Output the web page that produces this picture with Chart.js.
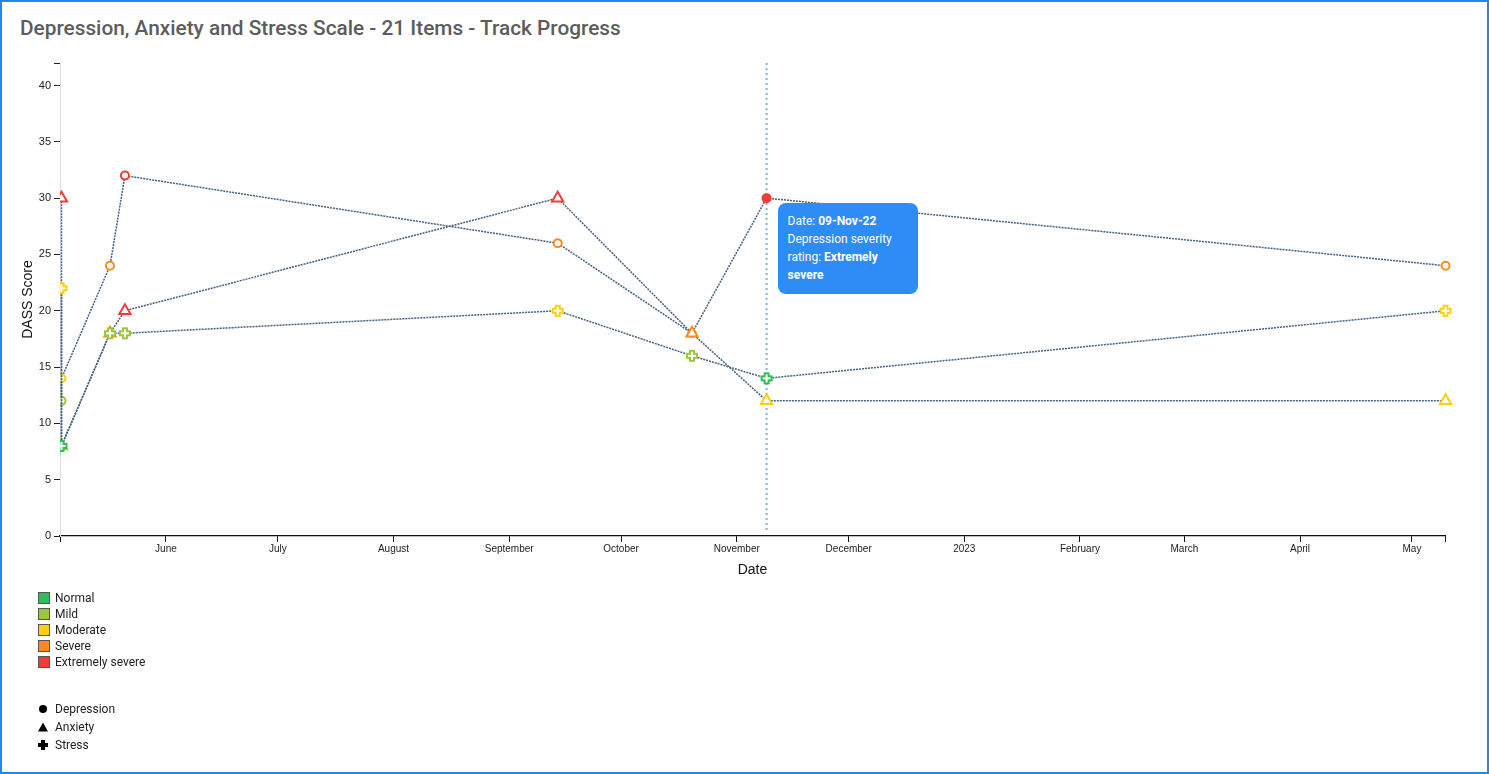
<!DOCTYPE html>
<html>
<head>
<meta charset="utf-8">
<script src="https://cdn.jsdelivr.net/npm/chart.js@4.4.0/dist/chart.umd.min.js"></script>
<style>
body { margin: 0; background: #fff; }
#frame { position: absolute; left: 0; top: 0; width: 1489px; height: 774px; box-sizing: border-box; border: 2px solid #1e88f0; pointer-events: none; }
#title { position: absolute; left: 20px; top: 16px; font: 500 20.8px Roboto; line-height: 24px; color: #5c5c5c; }
#wrap { position: absolute; left: 0; top: 0; width: 1489px; height: 600px; }
#tip { position: absolute; width: 120px; padding: 9px 10px 10px 10px; background: #2e8cf7; color: #fff; border-radius: 8px;
       font: 12px Roboto; line-height: 18px; }
#legend { position: absolute; left: 38px; top: 590px; font: 12px Roboto; color: #222; }
.row { height: 16px; line-height: 16px; display: flex; align-items: center; }
.sw { width: 10px; height: 10px; border: 1px solid #555; margin-right: 5px; }
.shape { height: 18px; line-height: 18px; display: flex; align-items: center; }
.shape svg { margin-right: 7px; }
</style>
</head>
<body>
<div id="title">Depression, Anxiety and Stress Scale - 21 Items - Track Progress</div>
<div id="wrap">
  <canvas id="myChartDass" width="1489" height="600"></canvas>
  <div id="tip"></div>
</div>
<div id="legend"></div>
<div id="frame"></div>
<script>
// assessment dates and scores
var dates = ['2022-05-04', '2022-05-04', '2022-05-17', '2022-05-21', '2022-09-14', '2022-10-20', '2022-11-09', '2023-05-10'];
var depression = [12, 14, 24, 32, 26, 18, 30, 24];
var anxiety = [30, 8, 18, 20, 30, 18, 12, 12];
var stress = [22, 8, 18, 18, 20, 16, 14, 20];

// severity cut points (normal / mild / moderate / severe / extremely severe)
var depressionCuts = [10, 14, 21, 28];
var anxietyCuts = [8, 10, 15, 20];
var stressCuts = [15, 19, 26, 34];
var severityNames = ['Normal', 'Mild', 'Moderate', 'Severe', 'Extremely severe'];
var severityColors = ['#2fbe5a', '#9cc73a', '#ffcf0a', '#ff8a1c', '#f53b35'];

// x axis month ticks
var monthStarts = ['2022-06-01', '2022-07-01', '2022-08-01', '2022-09-01', '2022-10-01', '2022-11-01', '2022-12-01',
                   '2023-01-01', '2023-02-01', '2023-03-01', '2023-04-01', '2023-05-01'];
var monthLabels = ['June', 'July', 'August', 'September', 'October', 'November', 'December',
                   '2023', 'February', 'March', 'April', 'May'];
var yTicks = [0, 5, 10, 15, 20, 25, 30, 35, 40];

var hoverIndex = 6;
var lineColor = '#42617f';

function dayNum(s) {
    var p = s.split('-');
    return Date.UTC(+p[0], +p[1] - 1, +p[2]) / 86400000;
}
function severity(v, cuts) {
    var i = 0;
    while (i < cuts.length && v >= cuts[i]) i++;
    return i;
}
function crossImage(color, fill) {
    var c = document.createElement('canvas');
    c.width = 14; c.height = 14;
    var g = c.getContext('2d');
    var w = 2, L = 5, cx = 7, cy = 7;
    g.beginPath();
    g.moveTo(cx - w, cy - L); g.lineTo(cx + w, cy - L); g.lineTo(cx + w, cy - w); g.lineTo(cx + L, cy - w);
    g.lineTo(cx + L, cy + w); g.lineTo(cx + w, cy + w); g.lineTo(cx + w, cy + L); g.lineTo(cx - w, cy + L);
    g.lineTo(cx - w, cy + w); g.lineTo(cx - L, cy + w); g.lineTo(cx - L, cy - w); g.lineTo(cx - w, cy - w);
    g.closePath();
    g.fillStyle = fill; g.fill();
    g.lineWidth = 2; g.strokeStyle = color; g.stroke();
    return c;
}
var crossImages = severityColors.map(function (c) { return crossImage(c, '#fff'); });

function points(values) {
    return values.map(function (v, i) { return { x: dayNum(dates[i]), y: v }; });
}

function makeDataset(label, values, cuts, style, radius, order) {
    var sev = values.map(function (v) { return severity(v, cuts); });
    return {
        label: label,
        data: points(values),
        order: order,
        borderColor: lineColor,
        borderWidth: 1.5,
        borderDash: [2, 1],
        fill: false,
        tension: 0,
        clip: { left: 0, top: false, right: false, bottom: false },
        pointRadius: radius,
        pointHoverRadius: radius,
        pointBorderWidth: 2,
        pointBorderColor: sev.map(function (s) { return severityColors[s]; }),
        pointBackgroundColor: sev.map(function (s, i) {
            return (label === 'Depression' && i === hoverIndex) ? severityColors[s] : '#fff';
        }),
        pointStyle: style === 'cross' ? sev.map(function (s) { return crossImages[s]; }) : style
    };
}

// axis bounds sit slightly outside the first and last assessment
var xMin = dayNum(dates[0]) - 0.4;
var xMax = dayNum(dates[dates.length - 1]) - 0.15;

var crosshair = {
    id: 'crosshair',
    beforeDatasetsDraw: function (chart) {
        var ctx = chart.ctx, area = chart.chartArea;
        var x = chart.scales.x.getPixelForValue(dayNum(dates[hoverIndex]));
        ctx.save();
        ctx.strokeStyle = '#7fb2d4';
        ctx.lineWidth = 2;
        ctx.setLineDash([2, 3]);
        ctx.beginPath();
        ctx.moveTo(x, area.top);
        ctx.lineTo(x, area.bottom - 4);
        ctx.stroke();
        ctx.restore();
    },
    afterRender: function (chart) {
        var x = chart.scales.x.getPixelForValue(dayNum(dates[hoverIndex]));
        var y = chart.scales.y.getPixelForValue(depression[hoverIndex]);
        var tip = document.getElementById('tip');
        tip.style.left = (x + 11) + 'px';
        tip.style.top = (y + 5) + 'px';
    }
};

const ctxDass = document.getElementById('myChartDass');
var chartDass = new Chart(ctxDass, {
    type: 'line',
    data: {
        datasets: [
            makeDataset('Depression', depression, depressionCuts, 'circle', 4, 3),
            makeDataset('Anxiety', anxiety, anxietyCuts, 'triangle', 6.5, 2),
            makeDataset('Stress', stress, stressCuts, 'cross', 6, 1)
        ]
    },
    plugins: [crosshair],
    options: {
        responsive: false,
        animation: false,
        events: [],
        layout: { padding: { left: 20, top: 63, right: 44, bottom: 17 } },
        plugins: {
            legend: { display: false },
            tooltip: { enabled: false }
        },
        scales: {
            x: {
                type: 'linear',
                min: xMin,
                max: xMax,
                afterFit: function (scale) { scale.height = 47; },
                afterBuildTicks: function (scale) {
                    var t = [{ value: xMin }];
                    monthStarts.forEach(function (m) { t.push({ value: dayNum(m) }); });
                    t.push({ value: xMax });
                    scale.ticks = t;
                },
                border: { color: '#111', width: 1.2 },
                grid: { drawOnChartArea: false, color: '#111', tickLength: 6 },
                ticks: {
                    autoSkip: false,
                    maxRotation: 0,
                    padding: 1,
                    color: '#222',
                    font: { family: 'Liberation Sans', size: 10 },
                    callback: function (value) {
                        var i = monthStarts.map(dayNum).indexOf(value);
                        return i >= 0 ? monthLabels[i] : '';
                    }
                },
                title: {
                    display: true,
                    text: 'Date',
                    color: '#111',
                    font: { family: 'Liberation Sans', size: 14 }
                }
            },
            y: {
                min: 0,
                max: 42,
                afterFit: function (scale) { scale.width = 40; },
                afterBuildTicks: function (scale) {
                    var t = yTicks.map(function (v) { return { value: v }; });
                    t.push({ value: 42 });
                    scale.ticks = t;
                },
                border: { color: '#dddddd', width: 1 },
                grid: { drawOnChartArea: false, color: '#222', tickLength: 6 },
                ticks: {
                    padding: 3,
                    color: '#222',
                    font: { family: 'Liberation Sans', size: 11 },
                    callback: function (value) { return yTicks.indexOf(value) >= 0 ? value : ''; }
                },
                title: {
                    display: true,
                    text: 'DASS Score',
                    color: '#111',
                    padding: { top: 0, bottom: 0 },
                    font: { family: 'Liberation Sans', size: 14 }
                }
            }
        }
    }
});

// tooltip text
var months3 = ['Jan', 'Feb', 'Mar', 'Apr', 'May', 'Jun', 'Jul', 'Aug', 'Sep', 'Oct', 'Nov', 'Dec'];
var hp = dates[hoverIndex].split('-');
var hoverDate = hp[2] + '-' + months3[+hp[1] - 1] + '-' + hp[0].slice(2);
var hoverSeverity = severityNames[severity(depression[hoverIndex], depressionCuts)];
document.getElementById('tip').innerHTML = 'Date: <b>' + hoverDate + '</b><br>Depression severity rating: <b>' + hoverSeverity + '</b>';

// legend
var legendHtml = '';
severityNames.forEach(function (n, i) {
    legendHtml += '<div class="row"><span class="sw" style="background:' + severityColors[i] + '"></span>' + n + '</div>';
});
legendHtml += '<div style="height:30px"></div>';
legendHtml += '<div class="shape"><svg width="10" height="10"><circle cx="5" cy="5" r="4" fill="#000"/></svg>Depression</div>';
legendHtml += '<div class="shape"><svg width="10" height="10"><path d="M5 0.5 L10 9.5 L0 9.5 Z" fill="#000"/></svg>Anxiety</div>';
legendHtml += '<div class="shape"><svg width="10" height="10"><path d="M3 0 H7 V3 H10 V7 H7 V10 H3 V7 H0 V3 H3 Z" fill="#000"/></svg>Stress</div>';
document.getElementById('legend').innerHTML = legendHtml;
</script>
</body>
</html>
